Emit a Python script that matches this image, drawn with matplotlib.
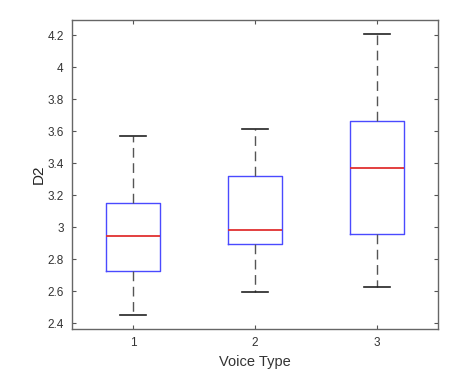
import matplotlib
matplotlib.use("Agg")
import matplotlib.pyplot as plt

plt.rcParams["font.family"] = ["Liberation Sans", "DejaVu Sans"]

categories = ["1", "2", "3"]
whislo = [2.452, 2.593, 2.623]
q1 = [2.727, 2.893, 2.956]
med = [2.945, 2.985, 3.370]
q3 = [3.149, 3.322, 3.665]
whishi = [3.567, 3.615, 4.206]
yticks = [2.4, 2.6, 2.8, 3.0, 3.2, 3.4, 3.6, 3.8, 4.0, 4.2]
ytick_labels = ["2.4", "2.6", "2.8", "3", "3.2", "3.4", "3.6", "3.8", "4", "4.2"]

stats = []
for i, c in enumerate(categories):
    stats.append(dict(label=c, whislo=whislo[i], q1=q1[i], med=med[i],
                      q3=q3[i], whishi=whishi[i], fliers=[]))

fig = plt.figure(figsize=(4.74, 3.86), dpi=100)
ax = fig.add_axes([0.152, 0.148, 0.772, 0.800])

ax.bxp(stats, positions=[1, 2, 3], widths=0.45, showfliers=False,
       boxprops=dict(color="#4a4aff", linewidth=1.0),
       medianprops=dict(color="#e03030", linewidth=1.3),
       whiskerprops=dict(color="#555555", linewidth=1.0, linestyle=(0, (7, 4))),
       capprops=dict(color="#222222", linewidth=1.2),
       capwidths=0.22)

ax.set_xlim(0.5, 3.5)
ax.set_ylim(2.364, 4.294)
ax.set_yticks(yticks)
ax.set_yticklabels(ytick_labels)
ax.set_xticks([1, 2, 3])
ax.set_xticklabels(categories)

ax.tick_params(direction="in", top=True, right=True, length=3,
               labelsize=8.5, colors="#555555", labelcolor="#333333", pad=6)
for s in ax.spines.values():
    s.set_color("#666666")
    s.set_linewidth(1.0)

ax.set_xlabel("Voice Type", fontsize=10.5, color="#333333", labelpad=4)
ax.set_ylabel("D2", fontsize=11, color="#222222", labelpad=1)

fig.savefig("out.png", dpi=100)
